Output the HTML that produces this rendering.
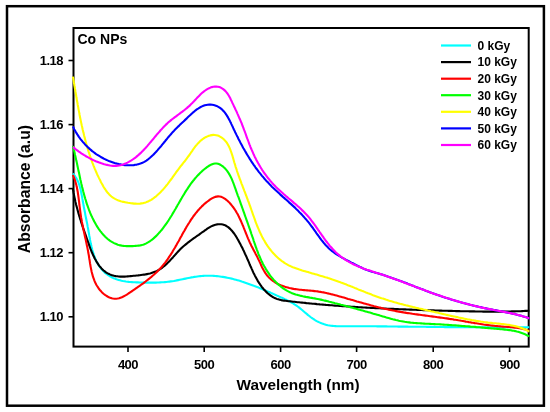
<!DOCTYPE html>
<html><head><meta charset="utf-8"><style>
html,body{margin:0;padding:0;background:#fff;}
svg{display:block;}
text{font-family:"Liberation Sans",Arial,sans-serif;font-weight:bold;fill:#000;}
</style></head><body>
<svg width="550" height="412" viewBox="0 0 550 412">
<rect x="0" y="0" width="550" height="412" fill="#fff"/>
<rect x="7" y="6.2" width="536.9" height="399.5" fill="none" stroke="#000" stroke-width="2.5"/>
<rect x="73.5" y="28" width="455.2" height="318.6" fill="none" stroke="#000" stroke-width="2"/>
<g fill="none" stroke-width="2.1" stroke-linejoin="round" stroke-linecap="butt">
<path d="M72.9,173.5 L73.9,174.6 L74.8,175.8 L75.6,177.1 L76.4,178.3 L77.1,179.7 L77.8,181.0 L78.4,182.4 L78.9,183.8 L79.4,185.2 L79.8,186.7 L80.2,188.1 L80.6,189.6 L80.9,191.0 L81.2,192.5 L81.5,194.0 L81.8,195.4 L82.1,196.9 L82.3,198.4 L82.6,199.9 L82.8,201.3 L83.1,202.8 L83.4,204.3 L83.6,205.8 L83.9,207.2 L84.2,208.7 L84.5,210.2 L84.8,211.7 L85.1,213.1 L85.3,214.6 L85.6,216.1 L85.9,217.5 L86.2,219.0 L86.5,220.5 L86.8,222.0 L87.1,223.4 L87.4,224.9 L87.6,226.4 L87.9,227.9 L88.2,229.3 L88.4,230.8 L88.7,232.3 L89.0,233.8 L89.2,235.2 L89.5,236.7 L89.8,238.2 L90.0,239.7 L90.3,241.1 L90.6,242.6 L90.9,244.1 L91.3,245.5 L91.6,247.0 L92.0,248.5 L92.3,249.9 L92.7,251.4 L93.2,252.8 L93.6,254.2 L94.1,255.6 L94.7,257.0 L95.2,258.4 L95.8,259.8 L96.4,261.2 L97.1,262.5 L97.8,263.8 L98.6,265.1 L99.4,266.4 L100.3,267.6 L101.2,268.8 L102.2,269.9 L103.2,271.0 L104.3,272.1 L105.4,273.1 L106.6,274.0 L107.8,274.9 L109.0,275.7 L110.3,276.5 L111.6,277.2 L113.0,277.9 L114.4,278.4 L115.8,279.0 L117.2,279.5 L118.6,279.9 L120.1,280.3 L121.5,280.7 L123.0,281.0 L124.5,281.2 L125.9,281.5 L127.4,281.7 L128.9,281.9 L130.4,282.0 L131.9,282.1 L133.4,282.2 L134.9,282.3 L136.4,282.4 L137.9,282.4 L139.4,282.5 L140.9,282.5 L142.4,282.5 L143.9,282.6 L145.4,282.6 L146.9,282.6 L148.4,282.6 L149.9,282.6 L151.4,282.6 L152.9,282.6 L154.4,282.6 L155.9,282.6 L157.4,282.5 L158.9,282.5 L160.4,282.4 L161.9,282.3 L163.4,282.2 L164.9,282.1 L166.4,282.0 L167.9,281.8 L169.4,281.6 L170.8,281.4 L172.3,281.2 L173.8,281.0 L175.3,280.7 L176.8,280.4 L178.2,280.1 L179.7,279.8 L181.2,279.5 L182.6,279.2 L184.1,278.9 L185.6,278.6 L187.0,278.3 L188.5,278.0 L190.0,277.7 L191.5,277.4 L192.9,277.2 L194.4,276.9 L195.9,276.7 L197.4,276.5 L198.9,276.3 L200.4,276.1 L201.9,276.0 L203.3,275.9 L204.8,275.8 L206.3,275.7 L207.8,275.7 L209.3,275.7 L210.8,275.7 L212.3,275.8 L213.8,275.9 L215.3,276.0 L216.8,276.1 L218.3,276.3 L219.8,276.5 L221.3,276.7 L222.8,276.9 L224.3,277.1 L225.7,277.4 L227.2,277.7 L228.7,278.0 L230.1,278.3 L231.6,278.6 L233.1,279.0 L234.5,279.4 L236.0,279.8 L237.4,280.2 L238.9,280.6 L240.3,281.0 L241.7,281.5 L243.2,281.9 L244.6,282.4 L246.0,282.9 L247.4,283.4 L248.8,283.9 L250.2,284.4 L251.6,284.9 L253.0,285.4 L254.4,286.0 L255.8,286.5 L257.2,287.1 L258.6,287.6 L260.0,288.2 L261.4,288.8 L262.8,289.4 L264.2,289.9 L265.5,290.5 L266.9,291.1 L268.3,291.7 L269.7,292.3 L271.0,292.9 L272.4,293.5 L273.8,294.1 L275.2,294.8 L276.5,295.4 L277.9,296.0 L279.3,296.6 L280.6,297.2 L282.0,297.8 L283.4,298.4 L284.7,299.1 L286.1,299.7 L287.4,300.4 L288.8,301.0 L290.1,301.7 L291.4,302.5 L292.7,303.2 L294.0,304.0 L295.3,304.8 L296.5,305.6 L297.7,306.5 L298.9,307.4 L300.1,308.4 L301.2,309.3 L302.4,310.3 L303.5,311.2 L304.7,312.2 L305.8,313.2 L307.0,314.1 L308.1,315.1 L309.3,316.0 L310.5,317.0 L311.7,317.8 L312.9,318.7 L314.2,319.5 L315.4,320.3 L316.7,321.1 L318.1,321.8 L319.4,322.4 L320.8,323.0 L322.2,323.6 L323.6,324.1 L325.0,324.5 L326.5,324.9 L327.9,325.3 L329.4,325.5 L330.9,325.8 L332.4,325.9 L333.9,326.0 L335.4,326.1 L336.9,326.2 L338.4,326.2 L339.9,326.2 L341.4,326.2 L342.9,326.2 L344.4,326.2 L345.9,326.2 L347.4,326.2 L348.9,326.2 L350.4,326.2 L351.9,326.2 L353.4,326.2 L354.9,326.2 L356.4,326.2 L357.9,326.2 L359.4,326.2 L360.9,326.3 L362.4,326.3 L363.9,326.3 L365.4,326.3 L366.9,326.3 L368.4,326.3 L369.9,326.3 L371.4,326.3 L372.9,326.3 L374.4,326.3 L375.9,326.3 L377.4,326.4 L378.9,326.4 L380.4,326.4 L381.9,326.4 L383.4,326.4 L384.9,326.4 L386.4,326.4 L387.9,326.5 L389.4,326.5 L390.9,326.5 L392.4,326.5 L393.9,326.5 L395.4,326.5 L396.9,326.5 L398.4,326.6 L399.9,326.6 L401.4,326.6 L402.9,326.6 L404.4,326.6 L405.9,326.6 L407.4,326.6 L408.9,326.7 L410.4,326.7 L411.9,326.7 L413.4,326.7 L414.9,326.7 L416.4,326.7 L417.9,326.8 L419.4,326.8 L420.9,326.8 L422.4,326.8 L423.9,326.8 L425.4,326.8 L426.9,326.9 L428.4,326.9 L429.9,326.9 L431.4,326.9 L432.9,326.9 L434.4,326.9 L435.9,327.0 L437.4,327.0 L438.9,327.0 L440.4,327.0 L441.9,327.0 L443.4,327.0 L444.9,327.1 L446.4,327.1 L447.9,327.1 L449.4,327.1 L450.9,327.1 L452.4,327.1 L453.9,327.1 L455.4,327.2 L456.9,327.2 L458.4,327.2 L459.9,327.2 L461.4,327.2 L462.9,327.2 L464.4,327.2 L465.9,327.2 L467.4,327.2 L468.9,327.3 L470.4,327.3 L471.9,327.3 L473.4,327.3 L474.9,327.3 L476.4,327.3 L477.9,327.3 L479.4,327.3 L480.9,327.3 L482.4,327.3 L483.9,327.3 L485.4,327.3 L486.9,327.3 L488.4,327.3 L489.9,327.3 L491.4,327.4 L492.9,327.4 L494.4,327.4 L495.9,327.4 L497.4,327.4 L498.9,327.4 L500.4,327.4 L501.9,327.4 L503.4,327.4 L504.9,327.4 L506.4,327.3 L507.9,327.3 L509.4,327.3 L510.9,327.3 L512.4,327.3 L513.9,327.3 L515.4,327.3 L516.9,327.3 L518.4,327.3 L519.9,327.3 L521.4,327.3 L522.9,327.3 L524.4,327.2 L525.9,327.2 L527.4,327.2 L528.9,327.2 L529.3,327.2" stroke="#00ffff"/>
<path d="M72.9,188.5 L73.1,190.0 L73.4,191.5 L73.6,192.9 L73.9,194.4 L74.2,195.9 L74.5,197.4 L74.8,198.8 L75.1,200.3 L75.4,201.8 L75.8,203.2 L76.1,204.7 L76.5,206.1 L76.9,207.6 L77.3,209.0 L77.7,210.5 L78.1,211.9 L78.5,213.4 L78.9,214.8 L79.3,216.2 L79.8,217.7 L80.2,219.1 L80.7,220.5 L81.1,222.0 L81.6,223.4 L82.1,224.8 L82.5,226.2 L83.0,227.7 L83.5,229.1 L84.0,230.5 L84.5,231.9 L85.0,233.3 L85.5,234.7 L86.0,236.2 L86.5,237.6 L87.0,239.0 L87.5,240.4 L88.0,241.8 L88.5,243.2 L89.0,244.6 L89.5,246.1 L90.0,247.5 L90.5,248.9 L91.1,250.3 L91.6,251.7 L92.2,253.0 L92.8,254.4 L93.4,255.8 L94.1,257.1 L94.7,258.5 L95.5,259.8 L96.2,261.1 L97.0,262.4 L97.8,263.6 L98.6,264.9 L99.5,266.1 L100.5,267.2 L101.5,268.4 L102.5,269.4 L103.6,270.5 L104.8,271.4 L106.0,272.3 L107.3,273.1 L108.6,273.8 L109.9,274.4 L111.3,275.0 L112.8,275.4 L114.2,275.8 L115.7,276.1 L117.2,276.3 L118.7,276.5 L120.2,276.6 L121.7,276.6 L123.2,276.6 L124.7,276.6 L126.2,276.5 L127.7,276.4 L129.2,276.3 L130.7,276.1 L132.1,276.0 L133.6,275.8 L135.1,275.7 L136.6,275.5 L138.1,275.4 L139.6,275.2 L141.1,275.0 L142.6,274.8 L144.1,274.6 L145.5,274.4 L147.0,274.1 L148.5,273.8 L150.0,273.5 L151.4,273.1 L152.8,272.6 L154.2,272.1 L155.6,271.6 L157.0,270.9 L158.3,270.2 L159.6,269.5 L160.9,268.6 L162.1,267.8 L163.3,266.8 L164.4,265.9 L165.5,264.9 L166.6,263.9 L167.7,262.8 L168.8,261.7 L169.8,260.7 L170.8,259.6 L171.8,258.5 L172.9,257.4 L173.9,256.2 L174.9,255.1 L175.9,254.0 L176.9,252.9 L177.9,251.8 L178.9,250.7 L180.0,249.6 L181.0,248.6 L182.1,247.5 L183.2,246.5 L184.4,245.5 L185.5,244.6 L186.7,243.6 L187.8,242.7 L189.0,241.8 L190.2,240.9 L191.4,240.0 L192.6,239.1 L193.9,238.2 L195.1,237.4 L196.3,236.5 L197.5,235.6 L198.8,234.8 L200.0,233.9 L201.2,233.0 L202.4,232.2 L203.7,231.3 L204.9,230.4 L206.1,229.6 L207.3,228.7 L208.6,227.9 L209.9,227.1 L211.2,226.4 L212.6,225.8 L214.0,225.2 L215.4,224.8 L216.8,224.4 L218.3,224.2 L219.8,224.2 L221.3,224.2 L222.8,224.5 L224.2,224.9 L225.6,225.5 L226.9,226.3 L228.2,227.1 L229.3,228.1 L230.4,229.1 L231.4,230.2 L232.4,231.3 L233.3,232.5 L234.2,233.7 L235.1,235.0 L235.9,236.2 L236.7,237.5 L237.4,238.8 L238.2,240.1 L238.9,241.4 L239.6,242.7 L240.3,244.0 L241.0,245.4 L241.7,246.7 L242.4,248.0 L243.0,249.4 L243.7,250.7 L244.3,252.1 L244.9,253.5 L245.5,254.8 L246.2,256.2 L246.8,257.6 L247.4,259.0 L248.0,260.3 L248.6,261.7 L249.2,263.1 L249.7,264.5 L250.3,265.8 L251.0,267.2 L251.6,268.6 L252.2,269.9 L252.8,271.3 L253.4,272.7 L254.1,274.0 L254.8,275.4 L255.5,276.7 L256.2,278.0 L256.9,279.3 L257.6,280.6 L258.4,281.9 L259.2,283.2 L260.1,284.4 L260.9,285.7 L261.8,286.9 L262.7,288.0 L263.7,289.2 L264.7,290.3 L265.7,291.4 L266.8,292.4 L267.9,293.5 L269.1,294.4 L270.3,295.3 L271.5,296.2 L272.8,297.0 L274.1,297.7 L275.4,298.3 L276.8,298.9 L278.3,299.3 L279.7,299.7 L281.2,300.1 L282.6,300.4 L284.1,300.6 L285.6,300.8 L287.1,301.0 L288.6,301.2 L290.1,301.3 L291.6,301.5 L293.1,301.7 L294.5,301.8 L296.0,302.0 L297.5,302.2 L299.0,302.3 L300.5,302.5 L302.0,302.6 L303.5,302.8 L305.0,302.9 L306.5,303.1 L308.0,303.2 L309.5,303.4 L311.0,303.5 L312.5,303.7 L313.9,303.8 L315.4,303.9 L316.9,304.1 L318.4,304.2 L319.9,304.4 L321.4,304.5 L322.9,304.6 L324.4,304.7 L325.9,304.9 L327.4,305.0 L328.9,305.1 L330.4,305.2 L331.9,305.3 L333.4,305.5 L334.9,305.6 L336.4,305.7 L337.9,305.8 L339.4,305.9 L340.9,306.0 L342.4,306.1 L343.8,306.2 L345.3,306.3 L346.8,306.4 L348.3,306.5 L349.8,306.6 L351.3,306.7 L352.8,306.8 L354.3,306.9 L355.8,307.0 L357.3,307.1 L358.8,307.2 L360.3,307.3 L361.8,307.4 L363.3,307.5 L364.8,307.5 L366.3,307.6 L367.8,307.7 L369.3,307.8 L370.8,307.9 L372.3,307.9 L373.8,308.0 L375.3,308.1 L376.8,308.2 L378.3,308.3 L379.8,308.3 L381.3,308.4 L382.8,308.5 L384.3,308.5 L385.8,308.6 L387.3,308.7 L388.8,308.7 L390.3,308.8 L391.8,308.9 L393.3,308.9 L394.8,309.0 L396.3,309.1 L397.8,309.1 L399.3,309.2 L400.8,309.2 L402.3,309.3 L403.8,309.4 L405.3,309.4 L406.8,309.5 L408.3,309.5 L409.8,309.6 L411.3,309.6 L412.8,309.7 L414.3,309.8 L415.8,309.8 L417.3,309.9 L418.8,309.9 L420.3,310.0 L421.8,310.0 L423.3,310.1 L424.8,310.1 L426.3,310.2 L427.7,310.2 L429.2,310.3 L430.7,310.3 L432.2,310.4 L433.7,310.4 L435.2,310.5 L436.7,310.5 L438.2,310.5 L439.7,310.6 L441.2,310.6 L442.7,310.7 L444.2,310.7 L445.7,310.8 L447.2,310.8 L448.7,310.9 L450.2,310.9 L451.7,310.9 L453.2,311.0 L454.7,311.0 L456.2,311.1 L457.7,311.1 L459.2,311.1 L460.7,311.2 L462.2,311.2 L463.7,311.2 L465.2,311.3 L466.7,311.3 L468.2,311.3 L469.7,311.4 L471.2,311.4 L472.7,311.4 L474.2,311.4 L475.7,311.5 L477.2,311.5 L478.7,311.5 L480.2,311.5 L481.7,311.5 L483.2,311.6 L484.7,311.6 L486.2,311.6 L487.7,311.6 L489.2,311.6 L490.7,311.6 L492.2,311.6 L493.7,311.6 L495.2,311.6 L496.7,311.6 L498.2,311.6 L499.7,311.6 L501.2,311.6 L502.7,311.6 L504.2,311.6 L505.7,311.6 L507.2,311.5 L508.7,311.5 L510.2,311.5 L511.7,311.4 L513.2,311.4 L514.7,311.4 L516.2,311.3 L517.7,311.3 L519.2,311.2 L520.7,311.2 L522.2,311.1 L523.7,311.0 L525.2,310.9 L526.7,310.9 L528.2,310.8 L529.3,310.7" stroke="#000000"/>
<path d="M72.9,175.0 L73.5,176.4 L74.1,177.8 L74.6,179.2 L75.1,180.6 L75.5,182.0 L75.9,183.5 L76.3,184.9 L76.6,186.4 L77.0,187.8 L77.2,189.3 L77.5,190.8 L77.8,192.3 L78.0,193.8 L78.2,195.2 L78.4,196.7 L78.6,198.2 L78.8,199.7 L79.0,201.2 L79.2,202.7 L79.3,204.2 L79.5,205.7 L79.7,207.1 L79.9,208.6 L80.1,210.1 L80.3,211.6 L80.5,213.1 L80.7,214.6 L80.9,216.1 L81.1,217.5 L81.4,219.0 L81.7,220.5 L81.9,222.0 L82.2,223.4 L82.5,224.9 L82.8,226.4 L83.1,227.9 L83.4,229.3 L83.7,230.8 L84.1,232.3 L84.4,233.7 L84.7,235.2 L85.0,236.7 L85.3,238.1 L85.7,239.6 L86.0,241.1 L86.3,242.5 L86.6,244.0 L86.9,245.5 L87.2,246.9 L87.5,248.4 L87.8,249.9 L88.1,251.3 L88.3,252.8 L88.6,254.3 L88.9,255.8 L89.1,257.3 L89.3,258.7 L89.6,260.2 L89.8,261.7 L90.0,263.2 L90.3,264.7 L90.5,266.1 L90.8,267.6 L91.1,269.1 L91.4,270.5 L91.7,272.0 L92.1,273.5 L92.5,274.9 L92.9,276.4 L93.4,277.8 L93.9,279.2 L94.4,280.6 L95.0,282.0 L95.6,283.3 L96.3,284.7 L97.1,286.0 L97.9,287.2 L98.7,288.5 L99.6,289.7 L100.6,290.8 L101.6,291.9 L102.7,293.0 L103.8,294.0 L105.0,294.9 L106.2,295.7 L107.5,296.5 L108.9,297.2 L110.2,297.7 L111.7,298.2 L113.1,298.5 L114.6,298.7 L116.1,298.7 L117.6,298.5 L119.1,298.2 L120.5,297.7 L121.9,297.2 L123.3,296.5 L124.6,295.8 L125.9,295.1 L127.2,294.3 L128.4,293.5 L129.7,292.7 L130.9,291.8 L132.2,291.0 L133.4,290.1 L134.6,289.3 L135.9,288.4 L137.1,287.6 L138.4,286.7 L139.6,285.9 L140.8,285.0 L142.0,284.1 L143.2,283.3 L144.4,282.4 L145.6,281.5 L146.8,280.5 L148.0,279.6 L149.2,278.7 L150.3,277.7 L151.5,276.8 L152.6,275.8 L153.8,274.8 L154.9,273.8 L156.0,272.8 L157.1,271.7 L158.1,270.7 L159.2,269.6 L160.2,268.5 L161.2,267.4 L162.2,266.3 L163.1,265.1 L164.1,263.9 L165.0,262.8 L165.9,261.6 L166.8,260.3 L167.7,259.1 L168.5,257.9 L169.3,256.6 L170.2,255.4 L171.0,254.1 L171.8,252.9 L172.6,251.6 L173.3,250.3 L174.1,249.0 L174.9,247.7 L175.6,246.4 L176.4,245.1 L177.1,243.8 L177.8,242.5 L178.6,241.2 L179.3,239.9 L180.0,238.6 L180.7,237.3 L181.5,235.9 L182.2,234.6 L182.9,233.3 L183.6,232.0 L184.4,230.7 L185.1,229.4 L185.9,228.1 L186.6,226.8 L187.4,225.5 L188.2,224.2 L189.0,223.0 L189.8,221.7 L190.6,220.4 L191.4,219.2 L192.3,218.0 L193.1,216.7 L194.0,215.5 L194.9,214.3 L195.8,213.1 L196.8,212.0 L197.7,210.8 L198.7,209.7 L199.7,208.6 L200.8,207.5 L201.8,206.4 L202.9,205.4 L204.0,204.3 L205.1,203.4 L206.3,202.4 L207.5,201.5 L208.7,200.6 L209.9,199.7 L211.1,198.9 L212.4,198.1 L213.8,197.5 L215.2,196.9 L216.6,196.6 L218.1,196.4 L219.6,196.5 L221.1,196.8 L222.5,197.4 L223.8,198.1 L225.1,198.9 L226.3,199.8 L227.4,200.7 L228.5,201.8 L229.6,202.8 L230.6,204.0 L231.5,205.1 L232.5,206.3 L233.4,207.5 L234.2,208.7 L235.1,210.0 L235.9,211.2 L236.6,212.5 L237.4,213.8 L238.1,215.1 L238.8,216.5 L239.4,217.8 L240.1,219.2 L240.7,220.5 L241.3,221.9 L241.9,223.3 L242.5,224.7 L243.1,226.0 L243.6,227.4 L244.2,228.8 L244.7,230.2 L245.3,231.6 L245.8,233.0 L246.4,234.4 L247.0,235.8 L247.5,237.2 L248.1,238.6 L248.7,239.9 L249.3,241.3 L249.9,242.7 L250.6,244.0 L251.2,245.4 L251.9,246.7 L252.6,248.1 L253.3,249.4 L254.0,250.7 L254.7,252.0 L255.4,253.4 L256.1,254.7 L256.8,256.0 L257.5,257.4 L258.1,258.7 L258.8,260.1 L259.4,261.4 L260.1,262.8 L260.7,264.1 L261.3,265.5 L261.9,266.9 L262.6,268.2 L263.3,269.5 L264.0,270.8 L264.8,272.1 L265.6,273.4 L266.5,274.6 L267.4,275.8 L268.4,276.9 L269.5,278.0 L270.6,279.0 L271.7,280.0 L272.9,280.9 L274.1,281.7 L275.4,282.5 L276.7,283.3 L278.0,284.0 L279.4,284.7 L280.7,285.3 L282.1,285.8 L283.5,286.3 L285.0,286.8 L286.4,287.2 L287.8,287.6 L289.3,288.0 L290.8,288.3 L292.2,288.6 L293.7,288.9 L295.2,289.1 L296.7,289.3 L298.2,289.5 L299.7,289.7 L301.1,289.8 L302.6,290.0 L304.1,290.1 L305.6,290.3 L307.1,290.4 L308.6,290.5 L310.1,290.6 L311.6,290.8 L313.1,290.9 L314.6,291.1 L316.1,291.3 L317.6,291.4 L319.0,291.7 L320.5,291.9 L322.0,292.2 L323.5,292.4 L325.0,292.7 L326.4,293.0 L327.9,293.4 L329.3,293.7 L330.8,294.1 L332.3,294.4 L333.7,294.8 L335.2,295.2 L336.6,295.6 L338.1,296.0 L339.5,296.4 L340.9,296.8 L342.4,297.2 L343.8,297.6 L345.3,298.0 L346.7,298.4 L348.1,298.9 L349.6,299.3 L351.0,299.7 L352.5,300.1 L353.9,300.5 L355.4,300.9 L356.8,301.4 L358.2,301.8 L359.7,302.2 L361.1,302.6 L362.6,303.0 L364.0,303.4 L365.5,303.8 L366.9,304.2 L368.3,304.6 L369.8,305.0 L371.2,305.4 L372.7,305.8 L374.1,306.2 L375.6,306.5 L377.1,306.9 L378.5,307.3 L380.0,307.6 L381.4,308.0 L382.9,308.3 L384.3,308.7 L385.8,309.0 L387.3,309.3 L388.7,309.6 L390.2,309.9 L391.7,310.2 L393.1,310.5 L394.6,310.8 L396.1,311.1 L397.6,311.4 L399.0,311.6 L400.5,311.9 L402.0,312.1 L403.5,312.4 L405.0,312.6 L406.4,312.9 L407.9,313.1 L409.4,313.3 L410.9,313.5 L412.4,313.8 L413.9,314.0 L415.3,314.2 L416.8,314.4 L418.3,314.6 L419.8,314.8 L421.3,315.0 L422.8,315.2 L424.3,315.4 L425.7,315.6 L427.2,315.8 L428.7,316.0 L430.2,316.2 L431.7,316.4 L433.2,316.6 L434.7,316.8 L436.2,317.0 L437.6,317.2 L439.1,317.4 L440.6,317.6 L442.1,317.8 L443.6,318.0 L445.1,318.2 L446.6,318.4 L448.0,318.6 L449.5,318.9 L451.0,319.1 L452.5,319.3 L454.0,319.6 L455.5,319.8 L456.9,320.0 L458.4,320.3 L459.9,320.5 L461.4,320.8 L462.8,321.0 L464.3,321.3 L465.8,321.6 L467.3,321.8 L468.8,322.1 L470.2,322.3 L471.7,322.6 L473.2,322.8 L474.7,323.1 L476.2,323.3 L477.6,323.5 L479.1,323.8 L480.6,324.0 L482.1,324.2 L483.6,324.5 L485.0,324.7 L486.5,324.9 L488.0,325.1 L489.5,325.3 L491.0,325.5 L492.5,325.6 L494.0,325.8 L495.5,326.0 L497.0,326.1 L498.5,326.3 L500.0,326.4 L501.4,326.5 L502.9,326.6 L504.4,326.7 L505.9,326.8 L507.4,326.9 L508.9,327.0 L510.4,327.2 L511.9,327.3 L513.4,327.4 L514.9,327.6 L516.4,327.8 L517.9,328.0 L519.4,328.2 L520.8,328.5 L522.3,328.8 L523.8,329.1 L525.2,329.5 L526.7,329.9 L528.1,330.4 L529.3,330.8" stroke="#ff0000"/>
<path d="M72.9,146.0 L73.3,147.5 L73.6,148.9 L74.0,150.4 L74.4,151.8 L74.7,153.3 L75.0,154.7 L75.4,156.2 L75.7,157.7 L76.0,159.1 L76.3,160.6 L76.7,162.1 L77.0,163.5 L77.3,165.0 L77.6,166.5 L77.9,167.9 L78.2,169.4 L78.5,170.9 L78.9,172.3 L79.2,173.8 L79.5,175.3 L79.8,176.7 L80.1,178.2 L80.4,179.7 L80.8,181.1 L81.1,182.6 L81.4,184.0 L81.8,185.5 L82.1,187.0 L82.5,188.4 L82.9,189.9 L83.2,191.3 L83.6,192.8 L84.0,194.2 L84.4,195.7 L84.8,197.1 L85.2,198.6 L85.7,200.0 L86.1,201.4 L86.5,202.9 L87.0,204.3 L87.5,205.7 L88.0,207.1 L88.5,208.5 L89.0,209.9 L89.6,211.3 L90.1,212.7 L90.7,214.1 L91.3,215.5 L92.0,216.8 L92.6,218.2 L93.3,219.5 L93.9,220.9 L94.7,222.2 L95.4,223.5 L96.1,224.8 L96.9,226.1 L97.7,227.4 L98.5,228.6 L99.4,229.8 L100.3,231.1 L101.2,232.2 L102.1,233.4 L103.1,234.5 L104.1,235.6 L105.2,236.7 L106.3,237.7 L107.4,238.7 L108.6,239.7 L109.8,240.6 L111.0,241.4 L112.3,242.2 L113.6,242.9 L115.0,243.6 L116.3,244.1 L117.8,244.7 L119.2,245.1 L120.7,245.4 L122.1,245.7 L123.6,245.9 L125.1,246.0 L126.6,246.1 L128.1,246.1 L129.6,246.1 L131.1,246.1 L132.6,246.1 L134.1,246.0 L135.6,245.9 L137.1,245.8 L138.6,245.6 L140.1,245.4 L141.5,245.1 L143.0,244.7 L144.4,244.2 L145.8,243.6 L147.1,242.9 L148.4,242.2 L149.7,241.4 L150.9,240.5 L152.1,239.6 L153.3,238.6 L154.4,237.6 L155.5,236.6 L156.6,235.6 L157.6,234.5 L158.6,233.4 L159.6,232.3 L160.6,231.1 L161.6,230.0 L162.5,228.8 L163.4,227.6 L164.3,226.4 L165.2,225.2 L166.1,224.0 L166.9,222.8 L167.8,221.5 L168.6,220.3 L169.4,219.0 L170.2,217.7 L171.0,216.5 L171.8,215.2 L172.5,213.9 L173.3,212.6 L174.1,211.3 L174.8,210.0 L175.6,208.7 L176.3,207.4 L177.1,206.1 L177.8,204.8 L178.6,203.5 L179.3,202.2 L180.1,200.9 L180.8,199.6 L181.6,198.3 L182.3,197.0 L183.1,195.7 L183.9,194.5 L184.6,193.2 L185.4,191.9 L186.2,190.6 L187.1,189.4 L187.9,188.1 L188.7,186.9 L189.6,185.6 L190.4,184.4 L191.3,183.2 L192.2,182.0 L193.1,180.8 L194.1,179.7 L195.0,178.5 L196.0,177.4 L197.0,176.2 L198.0,175.1 L199.1,174.1 L200.1,173.0 L201.2,172.0 L202.3,170.9 L203.4,170.0 L204.6,169.0 L205.8,168.1 L207.0,167.2 L208.2,166.3 L209.5,165.5 L210.8,164.8 L212.2,164.2 L213.6,163.7 L215.1,163.5 L216.6,163.5 L218.0,163.8 L219.4,164.3 L220.8,165.0 L222.0,165.8 L223.2,166.7 L224.3,167.7 L225.4,168.8 L226.3,169.9 L227.3,171.1 L228.1,172.3 L228.9,173.6 L229.7,174.9 L230.4,176.2 L231.1,177.6 L231.7,178.9 L232.3,180.3 L232.8,181.7 L233.4,183.1 L233.9,184.5 L234.4,185.9 L234.9,187.3 L235.4,188.7 L235.9,190.1 L236.4,191.6 L236.9,193.0 L237.4,194.4 L237.9,195.8 L238.5,197.2 L239.0,198.6 L239.5,200.0 L240.0,201.4 L240.5,202.9 L241.0,204.3 L241.5,205.7 L242.0,207.1 L242.5,208.5 L243.0,209.9 L243.5,211.3 L244.0,212.7 L244.5,214.1 L245.0,215.6 L245.5,217.0 L246.0,218.4 L246.5,219.8 L247.0,221.2 L247.5,222.6 L248.0,224.0 L248.5,225.5 L249.0,226.9 L249.5,228.3 L250.0,229.7 L250.5,231.1 L251.0,232.6 L251.4,234.0 L251.9,235.4 L252.4,236.8 L252.9,238.2 L253.4,239.7 L253.8,241.1 L254.3,242.5 L254.8,243.9 L255.3,245.3 L255.8,246.8 L256.3,248.2 L256.8,249.6 L257.4,251.0 L257.9,252.4 L258.4,253.8 L259.0,255.2 L259.6,256.5 L260.2,257.9 L260.8,259.3 L261.4,260.7 L262.1,262.0 L262.7,263.4 L263.4,264.7 L264.1,266.0 L264.9,267.3 L265.6,268.6 L266.4,269.9 L267.2,271.2 L268.0,272.4 L268.9,273.7 L269.7,274.9 L270.6,276.1 L271.6,277.3 L272.5,278.4 L273.5,279.6 L274.5,280.7 L275.5,281.8 L276.6,282.8 L277.7,283.9 L278.8,284.9 L279.9,285.8 L281.1,286.8 L282.3,287.7 L283.5,288.6 L284.8,289.4 L286.0,290.2 L287.3,290.9 L288.7,291.6 L290.0,292.3 L291.4,292.9 L292.8,293.4 L294.2,293.9 L295.6,294.4 L297.0,294.8 L298.5,295.2 L299.9,295.6 L301.4,295.9 L302.9,296.3 L304.3,296.6 L305.8,296.9 L307.3,297.1 L308.8,297.4 L310.2,297.7 L311.7,297.9 L313.2,298.2 L314.7,298.4 L316.1,298.7 L317.6,299.0 L319.1,299.3 L320.6,299.6 L322.0,299.9 L323.5,300.3 L324.9,300.6 L326.4,300.9 L327.9,301.3 L329.3,301.7 L330.8,302.0 L332.2,302.4 L333.7,302.8 L335.1,303.2 L336.6,303.5 L338.0,303.9 L339.5,304.3 L340.9,304.7 L342.4,305.0 L343.8,305.4 L345.3,305.8 L346.7,306.2 L348.2,306.6 L349.6,307.0 L351.1,307.4 L352.5,307.8 L354.0,308.2 L355.4,308.6 L356.9,309.0 L358.3,309.4 L359.8,309.8 L361.2,310.2 L362.7,310.6 L364.1,311.0 L365.5,311.4 L367.0,311.8 L368.4,312.2 L369.9,312.6 L371.3,313.0 L372.7,313.5 L374.2,313.9 L375.6,314.3 L377.1,314.7 L378.5,315.1 L379.9,315.6 L381.4,316.0 L382.8,316.4 L384.3,316.8 L385.7,317.3 L387.1,317.7 L388.6,318.1 L390.0,318.5 L391.5,318.9 L392.9,319.3 L394.4,319.6 L395.8,320.0 L397.3,320.3 L398.8,320.7 L400.2,321.0 L401.7,321.2 L403.2,321.5 L404.7,321.8 L406.1,322.0 L407.6,322.2 L409.1,322.4 L410.6,322.6 L412.1,322.7 L413.6,322.9 L415.1,323.0 L416.6,323.1 L418.1,323.2 L419.6,323.3 L421.1,323.4 L422.6,323.5 L424.1,323.6 L425.6,323.7 L427.1,323.8 L428.6,323.8 L430.1,323.9 L431.6,324.0 L433.1,324.0 L434.5,324.1 L436.0,324.2 L437.5,324.3 L439.0,324.3 L440.5,324.4 L442.0,324.5 L443.5,324.6 L445.0,324.7 L446.5,324.8 L448.0,324.9 L449.5,325.0 L451.0,325.1 L452.5,325.2 L454.0,325.3 L455.5,325.4 L457.0,325.5 L458.5,325.6 L460.0,325.7 L461.5,325.9 L463.0,326.0 L464.5,326.1 L466.0,326.2 L467.5,326.3 L469.0,326.4 L470.5,326.6 L472.0,326.7 L473.5,326.8 L474.9,326.9 L476.4,327.1 L477.9,327.2 L479.4,327.3 L480.9,327.5 L482.4,327.6 L483.9,327.7 L485.4,327.9 L486.9,328.0 L488.4,328.1 L489.9,328.2 L491.4,328.4 L492.9,328.5 L494.4,328.6 L495.9,328.8 L497.4,328.9 L498.9,329.0 L500.3,329.2 L501.8,329.3 L503.3,329.4 L504.8,329.6 L506.3,329.8 L507.8,329.9 L509.3,330.1 L510.8,330.3 L512.3,330.6 L513.7,330.8 L515.2,331.1 L516.7,331.5 L518.1,331.8 L519.6,332.2 L521.0,332.7 L522.4,333.2 L523.8,333.7 L525.2,334.3 L526.5,335.0 L527.9,335.7 L529.2,336.4 L529.3,336.5" stroke="#00ff00"/>
<path d="M72.9,76.6 L73.2,78.1 L73.4,79.6 L73.7,81.0 L73.9,82.5 L74.2,84.0 L74.4,85.5 L74.7,87.0 L74.9,88.4 L75.2,89.9 L75.4,91.4 L75.7,92.9 L75.9,94.3 L76.2,95.8 L76.4,97.3 L76.7,98.8 L76.9,100.3 L77.2,101.7 L77.5,103.2 L77.7,104.7 L78.0,106.2 L78.3,107.6 L78.5,109.1 L78.8,110.6 L79.1,112.1 L79.4,113.5 L79.6,115.0 L79.9,116.5 L80.2,118.0 L80.5,119.4 L80.8,120.9 L81.1,122.4 L81.4,123.8 L81.7,125.3 L82.1,126.8 L82.4,128.2 L82.7,129.7 L83.1,131.2 L83.4,132.6 L83.8,134.1 L84.1,135.5 L84.5,137.0 L84.9,138.4 L85.2,139.9 L85.6,141.3 L86.0,142.8 L86.4,144.2 L86.8,145.7 L87.2,147.1 L87.7,148.6 L88.1,150.0 L88.5,151.4 L89.0,152.8 L89.5,154.3 L89.9,155.7 L90.4,157.1 L90.9,158.5 L91.4,160.0 L91.9,161.4 L92.4,162.8 L93.0,164.2 L93.5,165.6 L94.1,167.0 L94.6,168.4 L95.2,169.7 L95.8,171.1 L96.4,172.5 L97.0,173.9 L97.6,175.2 L98.3,176.6 L98.9,177.9 L99.6,179.3 L100.3,180.6 L100.9,182.0 L101.6,183.3 L102.4,184.6 L103.1,185.9 L103.8,187.2 L104.6,188.5 L105.5,189.7 L106.3,191.0 L107.2,192.2 L108.2,193.3 L109.2,194.4 L110.3,195.5 L111.4,196.5 L112.6,197.4 L113.8,198.2 L115.1,198.9 L116.5,199.6 L117.9,200.2 L119.3,200.7 L120.7,201.2 L122.1,201.6 L123.6,201.9 L125.1,202.2 L126.5,202.5 L128.0,202.8 L129.5,203.0 L131.0,203.2 L132.5,203.4 L134.0,203.6 L135.5,203.6 L137.0,203.7 L138.5,203.7 L140.0,203.6 L141.5,203.4 L142.9,203.2 L144.4,202.8 L145.8,202.4 L147.2,201.8 L148.6,201.2 L149.9,200.5 L151.2,199.8 L152.5,199.0 L153.7,198.1 L154.9,197.2 L156.1,196.3 L157.2,195.3 L158.3,194.3 L159.4,193.3 L160.5,192.2 L161.5,191.1 L162.6,190.0 L163.6,188.9 L164.5,187.8 L165.5,186.6 L166.4,185.5 L167.4,184.3 L168.3,183.1 L169.2,181.9 L170.1,180.7 L171.0,179.5 L171.9,178.3 L172.7,177.1 L173.6,175.8 L174.5,174.6 L175.4,173.4 L176.2,172.2 L177.1,171.0 L178.0,169.8 L178.9,168.6 L179.8,167.4 L180.7,166.2 L181.7,165.0 L182.6,163.8 L183.5,162.7 L184.5,161.5 L185.4,160.3 L186.3,159.1 L187.2,157.9 L188.1,156.7 L189.0,155.5 L189.8,154.3 L190.7,153.0 L191.5,151.8 L192.4,150.6 L193.2,149.3 L194.1,148.1 L195.0,146.9 L195.9,145.7 L196.9,144.6 L197.9,143.4 L198.9,142.4 L200.0,141.3 L201.1,140.3 L202.3,139.4 L203.5,138.5 L204.8,137.7 L206.1,137.0 L207.5,136.4 L208.9,135.8 L210.3,135.4 L211.8,135.1 L213.3,134.9 L214.8,135.0 L216.2,135.2 L217.7,135.6 L219.1,136.1 L220.4,136.8 L221.7,137.6 L222.9,138.5 L224.0,139.5 L225.0,140.6 L226.0,141.7 L226.9,142.9 L227.7,144.2 L228.4,145.5 L229.1,146.8 L229.7,148.2 L230.3,149.6 L230.8,151.0 L231.3,152.4 L231.8,153.8 L232.3,155.3 L232.7,156.7 L233.1,158.1 L233.5,159.6 L233.9,161.0 L234.3,162.5 L234.8,163.9 L235.2,165.3 L235.6,166.8 L236.1,168.2 L236.6,169.6 L237.0,171.1 L237.5,172.5 L238.0,173.9 L238.5,175.3 L239.0,176.7 L239.5,178.1 L240.0,179.5 L240.6,180.9 L241.1,182.4 L241.6,183.8 L242.2,185.2 L242.7,186.6 L243.2,188.0 L243.8,189.4 L244.3,190.8 L244.9,192.2 L245.4,193.6 L245.9,195.0 L246.5,196.4 L247.0,197.8 L247.5,199.2 L248.0,200.6 L248.6,202.0 L249.1,203.4 L249.6,204.8 L250.1,206.2 L250.6,207.6 L251.1,209.0 L251.6,210.5 L252.1,211.9 L252.6,213.3 L253.0,214.7 L253.6,216.1 L254.1,217.5 L254.6,218.9 L255.1,220.4 L255.6,221.8 L256.1,223.2 L256.7,224.6 L257.2,226.0 L257.8,227.3 L258.4,228.7 L259.0,230.1 L259.6,231.5 L260.2,232.8 L260.9,234.2 L261.5,235.5 L262.2,236.9 L262.9,238.2 L263.6,239.5 L264.4,240.8 L265.1,242.1 L265.9,243.4 L266.7,244.7 L267.5,245.9 L268.4,247.1 L269.3,248.3 L270.2,249.5 L271.1,250.7 L272.1,251.9 L273.1,253.0 L274.1,254.1 L275.2,255.2 L276.2,256.2 L277.3,257.3 L278.4,258.3 L279.6,259.2 L280.7,260.2 L281.9,261.1 L283.2,261.9 L284.4,262.8 L285.7,263.6 L287.0,264.3 L288.3,265.1 L289.6,265.8 L291.0,266.4 L292.3,267.0 L293.7,267.6 L295.1,268.1 L296.5,268.6 L298.0,269.1 L299.4,269.6 L300.8,270.0 L302.2,270.5 L303.7,270.9 L305.1,271.3 L306.6,271.7 L308.0,272.1 L309.4,272.6 L310.9,273.0 L312.3,273.4 L313.8,273.8 L315.2,274.2 L316.7,274.6 L318.1,275.0 L319.5,275.5 L321.0,275.9 L322.4,276.3 L323.8,276.7 L325.3,277.2 L326.7,277.6 L328.1,278.1 L329.6,278.5 L331.0,279.0 L332.4,279.5 L333.8,279.9 L335.3,280.4 L336.7,280.9 L338.1,281.4 L339.5,281.9 L340.9,282.5 L342.3,283.0 L343.7,283.5 L345.1,284.1 L346.5,284.6 L347.9,285.2 L349.3,285.7 L350.7,286.3 L352.1,286.8 L353.5,287.4 L354.9,288.0 L356.3,288.5 L357.6,289.1 L359.0,289.7 L360.4,290.2 L361.8,290.8 L363.2,291.3 L364.6,291.9 L366.0,292.5 L367.4,293.0 L368.8,293.6 L370.2,294.1 L371.6,294.6 L373.0,295.2 L374.4,295.7 L375.8,296.2 L377.2,296.7 L378.6,297.2 L380.0,297.7 L381.5,298.2 L382.9,298.6 L384.3,299.1 L385.7,299.6 L387.2,300.0 L388.6,300.5 L390.0,300.9 L391.5,301.3 L392.9,301.7 L394.4,302.2 L395.8,302.6 L397.3,303.0 L398.7,303.4 L400.1,303.8 L401.6,304.1 L403.0,304.5 L404.5,304.9 L406.0,305.3 L407.4,305.6 L408.9,306.0 L410.3,306.4 L411.8,306.7 L413.2,307.1 L414.7,307.4 L416.2,307.8 L417.6,308.1 L419.1,308.5 L420.5,308.8 L422.0,309.1 L423.5,309.5 L424.9,309.8 L426.4,310.1 L427.8,310.5 L429.3,310.8 L430.8,311.2 L432.2,311.5 L433.7,311.8 L435.2,312.2 L436.6,312.5 L438.1,312.8 L439.5,313.2 L441.0,313.5 L442.5,313.9 L443.9,314.2 L445.4,314.5 L446.8,314.9 L448.3,315.2 L449.8,315.5 L451.2,315.9 L452.7,316.2 L454.2,316.5 L455.6,316.8 L457.1,317.1 L458.6,317.5 L460.0,317.8 L461.5,318.1 L463.0,318.4 L464.4,318.7 L465.9,319.0 L467.4,319.3 L468.9,319.5 L470.3,319.8 L471.8,320.1 L473.3,320.3 L474.8,320.6 L476.2,320.9 L477.7,321.1 L479.2,321.3 L480.7,321.6 L482.2,321.8 L483.6,322.0 L485.1,322.2 L486.6,322.4 L488.1,322.6 L489.6,322.7 L491.1,322.9 L492.6,323.1 L494.1,323.2 L495.6,323.3 L497.1,323.5 L498.6,323.6 L500.0,323.8 L501.5,324.0 L503.0,324.1 L504.5,324.3 L506.0,324.5 L507.5,324.7 L509.0,324.9 L510.5,325.2 L511.9,325.5 L513.4,325.8 L514.9,326.1 L516.3,326.4 L517.8,326.8 L519.2,327.3 L520.6,327.7 L522.0,328.2 L523.4,328.8 L524.8,329.4 L526.2,330.0 L527.5,330.7 L528.8,331.4 L529.3,331.7" stroke="#ffff00"/>
<path d="M72.9,126.5 L73.6,127.8 L74.2,129.2 L75.0,130.5 L75.7,131.8 L76.5,133.1 L77.3,134.4 L78.1,135.6 L78.9,136.9 L79.8,138.1 L80.7,139.3 L81.6,140.4 L82.6,141.6 L83.6,142.7 L84.6,143.9 L85.6,145.0 L86.6,146.0 L87.7,147.1 L88.8,148.1 L89.9,149.1 L91.1,150.1 L92.2,151.1 L93.4,152.0 L94.6,152.9 L95.8,153.8 L97.0,154.6 L98.3,155.4 L99.6,156.2 L100.8,157.0 L102.2,157.7 L103.5,158.5 L104.8,159.1 L106.2,159.8 L107.5,160.4 L108.9,161.0 L110.3,161.5 L111.7,162.0 L113.1,162.5 L114.6,163.0 L116.0,163.4 L117.5,163.7 L118.9,164.1 L120.4,164.4 L121.9,164.7 L123.4,164.9 L124.9,165.1 L126.3,165.2 L127.8,165.3 L129.3,165.3 L130.8,165.3 L132.3,165.2 L133.8,165.1 L135.3,164.8 L136.8,164.6 L138.3,164.2 L139.7,163.8 L141.1,163.3 L142.5,162.7 L143.8,162.1 L145.2,161.3 L146.4,160.6 L147.7,159.7 L148.8,158.8 L150.0,157.8 L151.1,156.8 L152.2,155.8 L153.3,154.8 L154.3,153.7 L155.4,152.6 L156.4,151.5 L157.4,150.4 L158.4,149.2 L159.3,148.1 L160.3,147.0 L161.3,145.8 L162.2,144.6 L163.2,143.5 L164.1,142.3 L165.1,141.2 L166.0,140.0 L167.0,138.8 L167.9,137.7 L168.9,136.5 L169.9,135.4 L170.9,134.3 L171.8,133.1 L172.8,132.0 L173.9,130.9 L174.9,129.8 L175.9,128.8 L177.0,127.7 L178.1,126.6 L179.2,125.6 L180.2,124.6 L181.3,123.5 L182.4,122.5 L183.5,121.5 L184.6,120.4 L185.7,119.4 L186.8,118.4 L187.8,117.3 L188.9,116.3 L190.0,115.3 L191.1,114.2 L192.2,113.2 L193.3,112.2 L194.5,111.3 L195.6,110.3 L196.8,109.4 L198.1,108.6 L199.3,107.8 L200.7,107.0 L202.0,106.4 L203.4,105.8 L204.8,105.3 L206.3,105.0 L207.7,104.7 L209.2,104.6 L210.7,104.6 L212.2,104.7 L213.7,105.0 L215.2,105.4 L216.6,105.9 L217.9,106.6 L219.2,107.3 L220.4,108.2 L221.6,109.1 L222.7,110.2 L223.7,111.3 L224.7,112.4 L225.6,113.6 L226.4,114.8 L227.2,116.1 L228.0,117.4 L228.7,118.7 L229.4,120.0 L230.1,121.4 L230.8,122.7 L231.4,124.1 L232.0,125.4 L232.7,126.8 L233.3,128.2 L233.9,129.5 L234.6,130.9 L235.2,132.2 L235.9,133.6 L236.5,134.9 L237.2,136.3 L237.9,137.6 L238.5,139.0 L239.2,140.3 L239.9,141.6 L240.6,143.0 L241.3,144.3 L242.0,145.6 L242.7,146.9 L243.4,148.2 L244.2,149.5 L244.9,150.8 L245.7,152.1 L246.4,153.4 L247.2,154.7 L248.0,156.0 L248.8,157.3 L249.6,158.6 L250.4,159.8 L251.2,161.1 L252.0,162.3 L252.9,163.6 L253.7,164.8 L254.6,166.0 L255.4,167.3 L256.3,168.5 L257.2,169.7 L258.1,170.9 L259.0,172.1 L259.9,173.2 L260.9,174.4 L261.8,175.6 L262.8,176.7 L263.8,177.9 L264.7,179.0 L265.7,180.1 L266.7,181.2 L267.8,182.3 L268.8,183.4 L269.8,184.5 L270.9,185.6 L271.9,186.7 L273.0,187.7 L274.1,188.7 L275.2,189.8 L276.3,190.8 L277.4,191.8 L278.5,192.8 L279.6,193.8 L280.7,194.9 L281.8,195.9 L282.9,196.9 L284.1,197.9 L285.2,198.9 L286.3,199.8 L287.4,200.8 L288.5,201.8 L289.6,202.9 L290.8,203.9 L291.9,204.9 L293.0,205.9 L294.1,206.9 L295.2,207.9 L296.2,209.0 L297.3,210.0 L298.4,211.1 L299.4,212.2 L300.5,213.2 L301.5,214.3 L302.5,215.4 L303.5,216.5 L304.5,217.6 L305.5,218.8 L306.5,219.9 L307.5,221.1 L308.4,222.2 L309.4,223.4 L310.3,224.6 L311.2,225.8 L312.1,227.0 L313.0,228.2 L313.8,229.4 L314.7,230.6 L315.6,231.8 L316.4,233.1 L317.3,234.3 L318.2,235.5 L319.0,236.7 L319.9,238.0 L320.8,239.2 L321.7,240.4 L322.7,241.5 L323.6,242.7 L324.6,243.8 L325.6,245.0 L326.6,246.1 L327.6,247.1 L328.7,248.2 L329.8,249.2 L331.0,250.2 L332.1,251.1 L333.3,252.0 L334.5,252.9 L335.8,253.8 L337.0,254.6 L338.3,255.4 L339.6,256.2 L340.8,256.9 L342.1,257.7 L343.5,258.4 L344.8,259.1 L346.1,259.8 L347.4,260.5 L348.8,261.2 L350.1,261.9 L351.4,262.6 L352.8,263.2 L354.1,263.9 L355.5,264.6 L356.8,265.3 L358.1,266.0 L359.5,266.7 L360.8,267.3 L362.2,268.0 L363.5,268.6 L364.9,269.2 L366.3,269.8 L367.7,270.3 L369.1,270.8 L370.5,271.2 L372.0,271.7 L373.4,272.1 L374.8,272.5 L376.3,272.9 L377.7,273.3 L379.2,273.8 L380.6,274.2 L382.0,274.6 L383.5,275.1 L384.9,275.5 L386.3,276.0 L387.8,276.5 L389.2,276.9 L390.6,277.4 L392.0,277.9 L393.4,278.4 L394.8,278.9 L396.3,279.4 L397.7,279.9 L399.1,280.5 L400.5,281.0 L401.9,281.5 L403.3,282.0 L404.7,282.6 L406.1,283.1 L407.5,283.6 L408.9,284.2 L410.3,284.7 L411.7,285.3 L413.1,285.8 L414.5,286.4 L415.9,286.9 L417.3,287.4 L418.7,288.0 L420.1,288.5 L421.5,289.1 L422.9,289.6 L424.3,290.1 L425.7,290.7 L427.1,291.2 L428.5,291.7 L429.9,292.3 L431.3,292.8 L432.7,293.3 L434.1,293.8 L435.5,294.3 L436.9,294.8 L438.4,295.3 L439.8,295.8 L441.2,296.3 L442.6,296.7 L444.1,297.2 L445.5,297.7 L446.9,298.1 L448.3,298.6 L449.8,299.0 L451.2,299.5 L452.6,299.9 L454.1,300.3 L455.5,300.7 L457.0,301.2 L458.4,301.6 L459.8,302.0 L461.3,302.4 L462.7,302.8 L464.2,303.2 L465.6,303.6 L467.1,303.9 L468.5,304.3 L470.0,304.7 L471.4,305.0 L472.9,305.4 L474.4,305.8 L475.8,306.1 L477.3,306.4 L478.7,306.8 L480.2,307.1 L481.7,307.4 L483.1,307.8 L484.6,308.1 L486.1,308.4 L487.5,308.7 L489.0,309.0 L490.5,309.3 L491.9,309.6 L493.4,309.9 L494.9,310.1 L496.4,310.4 L497.8,310.7 L499.3,311.0 L500.8,311.3 L502.3,311.5 L503.7,311.8 L505.2,312.1 L506.7,312.4 L508.1,312.7 L509.6,313.0 L511.1,313.3 L512.5,313.7 L514.0,314.0 L515.5,314.3 L516.9,314.7 L518.4,315.1 L519.8,315.4 L521.3,315.8 L522.7,316.3 L524.2,316.7 L525.6,317.1 L527.0,317.6 L528.4,318.1 L529.3,318.4" stroke="#0000ff"/>
<path d="M72.9,147.0 L74.1,147.9 L75.2,148.9 L76.4,149.8 L77.6,150.7 L78.8,151.6 L80.1,152.4 L81.3,153.3 L82.6,154.1 L83.8,154.9 L85.1,155.7 L86.4,156.5 L87.7,157.2 L89.0,157.9 L90.3,158.6 L91.7,159.3 L93.0,160.0 L94.4,160.6 L95.8,161.2 L97.2,161.7 L98.6,162.3 L100.0,162.8 L101.4,163.3 L102.8,163.7 L104.2,164.2 L105.7,164.6 L107.2,164.9 L108.6,165.2 L110.1,165.5 L111.6,165.7 L113.1,165.9 L114.6,165.9 L116.1,165.9 L117.6,165.8 L119.0,165.5 L120.5,165.2 L122.0,164.8 L123.4,164.4 L124.8,163.8 L126.2,163.2 L127.5,162.6 L128.8,161.9 L130.1,161.1 L131.4,160.4 L132.7,159.5 L133.9,158.7 L135.1,157.8 L136.3,156.9 L137.4,155.9 L138.6,154.9 L139.7,153.9 L140.8,152.9 L141.9,151.8 L142.9,150.8 L143.9,149.7 L145.0,148.6 L146.0,147.5 L147.0,146.4 L148.0,145.2 L148.9,144.1 L149.9,142.9 L150.9,141.8 L151.8,140.6 L152.8,139.5 L153.8,138.3 L154.7,137.2 L155.7,136.0 L156.6,134.9 L157.6,133.7 L158.6,132.6 L159.6,131.5 L160.5,130.3 L161.6,129.2 L162.6,128.1 L163.6,127.0 L164.6,126.0 L165.7,124.9 L166.8,123.9 L167.9,122.8 L169.0,121.8 L170.2,120.9 L171.3,119.9 L172.5,119.0 L173.7,118.1 L174.9,117.2 L176.1,116.3 L177.3,115.4 L178.5,114.5 L179.7,113.6 L180.9,112.7 L182.1,111.8 L183.3,110.9 L184.5,110.0 L185.7,109.0 L186.8,108.1 L187.9,107.1 L189.1,106.1 L190.2,105.1 L191.2,104.0 L192.3,103.0 L193.3,101.9 L194.4,100.8 L195.4,99.7 L196.4,98.6 L197.4,97.5 L198.5,96.4 L199.5,95.4 L200.6,94.3 L201.7,93.3 L202.8,92.3 L204.0,91.4 L205.2,90.5 L206.5,89.6 L207.7,88.9 L209.1,88.2 L210.5,87.6 L211.9,87.1 L213.3,86.8 L214.8,86.6 L216.3,86.5 L217.8,86.7 L219.3,87.1 L220.7,87.6 L222.0,88.3 L223.2,89.1 L224.4,90.1 L225.5,91.1 L226.5,92.3 L227.4,93.5 L228.2,94.7 L229.0,96.0 L229.7,97.3 L230.4,98.6 L231.0,100.0 L231.7,101.3 L232.3,102.7 L233.0,104.1 L233.6,105.4 L234.2,106.8 L234.9,108.1 L235.5,109.5 L236.2,110.8 L236.8,112.2 L237.4,113.6 L238.0,114.9 L238.6,116.3 L239.2,117.7 L239.8,119.0 L240.4,120.4 L241.0,121.8 L241.6,123.2 L242.1,124.6 L242.6,126.0 L243.2,127.4 L243.7,128.8 L244.2,130.2 L244.8,131.6 L245.3,133.0 L245.8,134.4 L246.3,135.8 L246.8,137.3 L247.3,138.7 L247.9,140.1 L248.4,141.5 L248.9,142.9 L249.4,144.3 L250.0,145.7 L250.5,147.1 L251.1,148.5 L251.7,149.9 L252.3,151.2 L252.9,152.6 L253.5,154.0 L254.1,155.3 L254.7,156.7 L255.4,158.0 L256.1,159.4 L256.8,160.7 L257.5,162.0 L258.2,163.3 L259.0,164.6 L259.7,165.9 L260.5,167.2 L261.3,168.5 L262.1,169.8 L262.9,171.0 L263.8,172.3 L264.6,173.5 L265.5,174.7 L266.4,175.9 L267.3,177.1 L268.2,178.3 L269.2,179.4 L270.1,180.6 L271.1,181.7 L272.1,182.9 L273.1,184.0 L274.1,185.1 L275.2,186.1 L276.2,187.2 L277.3,188.3 L278.4,189.3 L279.5,190.3 L280.6,191.3 L281.7,192.3 L282.8,193.3 L283.9,194.3 L285.1,195.3 L286.2,196.3 L287.4,197.2 L288.5,198.2 L289.7,199.2 L290.8,200.1 L292.0,201.1 L293.1,202.1 L294.2,203.1 L295.4,204.0 L296.5,205.0 L297.6,206.0 L298.8,207.0 L299.9,208.0 L301.0,209.0 L302.0,210.1 L303.1,211.1 L304.2,212.2 L305.2,213.3 L306.3,214.4 L307.3,215.5 L308.3,216.6 L309.2,217.7 L310.2,218.9 L311.1,220.1 L312.0,221.3 L312.9,222.5 L313.8,223.7 L314.7,224.9 L315.6,226.1 L316.4,227.3 L317.3,228.6 L318.1,229.8 L319.0,231.0 L319.8,232.3 L320.7,233.5 L321.5,234.7 L322.4,236.0 L323.3,237.2 L324.1,238.4 L325.0,239.6 L325.9,240.8 L326.8,242.0 L327.7,243.2 L328.7,244.4 L329.6,245.6 L330.6,246.7 L331.6,247.8 L332.6,248.9 L333.6,250.0 L334.6,251.1 L335.7,252.2 L336.8,253.2 L337.9,254.2 L339.1,255.1 L340.2,256.1 L341.4,257.0 L342.7,257.9 L343.9,258.7 L345.1,259.6 L346.4,260.4 L347.7,261.2 L349.0,261.9 L350.3,262.7 L351.6,263.4 L352.9,264.0 L354.3,264.7 L355.6,265.3 L357.0,265.9 L358.4,266.5 L359.8,267.1 L361.2,267.6 L362.6,268.2 L364.0,268.7 L365.4,269.2 L366.8,269.7 L368.2,270.1 L369.7,270.6 L371.1,271.1 L372.5,271.5 L374.0,272.0 L375.4,272.4 L376.8,272.9 L378.2,273.3 L379.7,273.8 L381.1,274.3 L382.5,274.7 L383.9,275.2 L385.4,275.7 L386.8,276.2 L388.2,276.7 L389.6,277.2 L391.0,277.7 L392.4,278.2 L393.8,278.7 L395.3,279.2 L396.7,279.8 L398.1,280.3 L399.5,280.8 L400.9,281.3 L402.3,281.8 L403.7,282.4 L405.1,282.9 L406.5,283.4 L407.9,284.0 L409.3,284.5 L410.7,285.0 L412.1,285.6 L413.5,286.1 L414.9,286.6 L416.3,287.2 L417.7,287.7 L419.1,288.2 L420.5,288.7 L421.9,289.3 L423.3,289.8 L424.7,290.3 L426.2,290.8 L427.6,291.3 L429.0,291.9 L430.4,292.4 L431.8,292.9 L433.2,293.4 L434.6,293.9 L436.0,294.4 L437.5,294.9 L438.9,295.3 L440.3,295.8 L441.7,296.3 L443.1,296.8 L444.6,297.2 L446.0,297.7 L447.4,298.2 L448.8,298.6 L450.3,299.1 L451.7,299.5 L453.1,300.0 L454.6,300.4 L456.0,300.8 L457.5,301.2 L458.9,301.7 L460.3,302.1 L461.8,302.5 L463.2,302.9 L464.7,303.3 L466.1,303.7 L467.6,304.1 L469.0,304.4 L470.5,304.8 L471.9,305.2 L473.4,305.5 L474.8,305.9 L476.3,306.2 L477.8,306.6 L479.2,306.9 L480.7,307.3 L482.1,307.6 L483.6,307.9 L485.1,308.2 L486.5,308.5 L488.0,308.8 L489.5,309.1 L491.0,309.4 L492.4,309.7 L493.9,310.0 L495.4,310.3 L496.9,310.5 L498.3,310.8 L499.8,311.1 L501.3,311.4 L502.8,311.6 L504.2,311.9 L505.7,312.2 L507.2,312.5 L508.6,312.8 L510.1,313.1 L511.6,313.4 L513.0,313.7 L514.5,314.1 L516.0,314.4 L517.4,314.8 L518.9,315.1 L520.3,315.5 L521.8,315.9 L523.2,316.4 L524.6,316.8 L526.1,317.3 L527.5,317.8 L528.9,318.3 L529.3,318.4" stroke="#ff00ff"/>
</g>
<g stroke="#000" stroke-width="1.6">
<line x1="68.5" y1="316.8" x2="73.5" y2="316.8"/>
<line x1="68.5" y1="252.7" x2="73.5" y2="252.7"/>
<line x1="68.5" y1="188.6" x2="73.5" y2="188.6"/>
<line x1="68.5" y1="124.6" x2="73.5" y2="124.6"/>
<line x1="68.5" y1="60.5" x2="73.5" y2="60.5"/>
<line x1="128.0" y1="346.6" x2="128.0" y2="352"/>
<line x1="204.2" y1="346.6" x2="204.2" y2="352"/>
<line x1="280.6" y1="346.6" x2="280.6" y2="352"/>
<line x1="356.6" y1="346.6" x2="356.6" y2="352"/>
<line x1="433.2" y1="346.6" x2="433.2" y2="352"/>
<line x1="509.6" y1="346.6" x2="509.6" y2="352"/>
</g>
<g font-size="13" letter-spacing="-0.5">
<text x="63" y="321.4" text-anchor="end">1.10</text>
<text x="63" y="257.3" text-anchor="end">1.12</text>
<text x="63" y="193.2" text-anchor="end">1.14</text>
<text x="63" y="129.2" text-anchor="end">1.16</text>
<text x="63" y="65.1" text-anchor="end">1.18</text>
<text x="128.0" y="369" text-anchor="middle">400</text>
<text x="204.2" y="369" text-anchor="middle">500</text>
<text x="280.6" y="369" text-anchor="middle">600</text>
<text x="356.6" y="369" text-anchor="middle">700</text>
<text x="433.2" y="369" text-anchor="middle">800</text>
<text x="509.6" y="369" text-anchor="middle">900</text>
</g>
<text x="77.5" y="43.6" font-size="14">Co NPs</text>
<g stroke-width="2.2">
<line x1="441" y1="45.5" x2="471" y2="45.5" stroke="#00ffff"/>
<text font-size="12" x="477.5" y="49.8">0 kGy</text>
<line x1="441" y1="62.1" x2="471" y2="62.1" stroke="#000000"/>
<text font-size="12" x="477.5" y="66.4">10 kGy</text>
<line x1="441" y1="78.7" x2="471" y2="78.7" stroke="#ff0000"/>
<text font-size="12" x="477.5" y="83.0">20 kGy</text>
<line x1="441" y1="95.2" x2="471" y2="95.2" stroke="#00ff00"/>
<text font-size="12" x="477.5" y="99.5">30 kGy</text>
<line x1="441" y1="111.8" x2="471" y2="111.8" stroke="#ffff00"/>
<text font-size="12" x="477.5" y="116.1">40 kGy</text>
<line x1="441" y1="128.4" x2="471" y2="128.4" stroke="#0000ff"/>
<text font-size="12" x="477.5" y="132.7">50 kGy</text>
<line x1="441" y1="145.0" x2="471" y2="145.0" stroke="#ff00ff"/>
<text font-size="12" x="477.5" y="149.3">60 kGy</text>
</g>
<text x="236.5" y="390" font-size="15.35">Wavelength (nm)</text>
<text transform="translate(30,253.2) rotate(-90)" font-size="15.7">Absorbance (a.u)</text>
</svg>
</body></html>
